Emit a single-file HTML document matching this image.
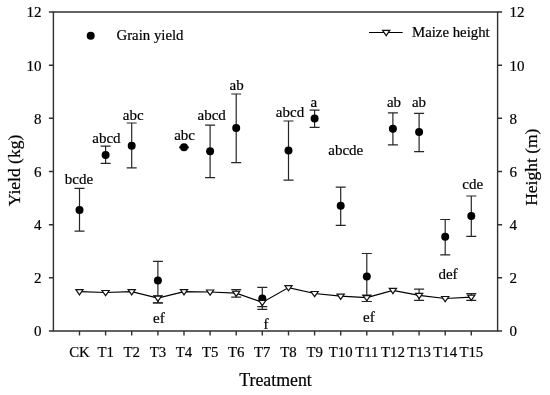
<!DOCTYPE html><html><head><meta charset="utf-8"><style>html,body{margin:0;padding:0;background:#fff;}svg{display:block;}text{font-family:"Liberation Serif","Times New Roman",serif;fill:#000;stroke:#000;stroke-width:0.2px;}</style></head><body>
<svg width="550" height="395" viewBox="0 0 550 395">
<rect width="550" height="395" fill="#fff"/>
<g stroke="#303030" stroke-width="1.4" fill="none">
<path d="M53.4 12V331H497.6V12Z"/>
<path d="M48.9 331.0H53.4M497.6 331.0H502.1"/>
<path d="M48.9 277.8H53.4M497.6 277.8H502.1"/>
<path d="M48.9 224.7H53.4M497.6 224.7H502.1"/>
<path d="M48.9 171.5H53.4M497.6 171.5H502.1"/>
<path d="M48.9 118.3H53.4M497.6 118.3H502.1"/>
<path d="M48.9 65.2H53.4M497.6 65.2H502.1"/>
<path d="M48.9 12.0H53.4M497.6 12.0H502.1"/>
<path d="M79.5 331V335.5"/>
<path d="M105.6 331V335.5"/>
<path d="M131.7 331V335.5"/>
<path d="M157.9 331V335.5"/>
<path d="M184.0 331V335.5"/>
<path d="M210.1 331V335.5"/>
<path d="M236.2 331V335.5"/>
<path d="M262.3 331V335.5"/>
<path d="M288.5 331V335.5"/>
<path d="M314.6 331V335.5"/>
<path d="M340.7 331V335.5"/>
<path d="M366.8 331V335.5"/>
<path d="M392.9 331V335.5"/>
<path d="M419.1 331V335.5"/>
<path d="M445.2 331V335.5"/>
<path d="M471.3 331V335.5"/>
</g>
<g font-size="15">
<text x="41.4" y="336.4" text-anchor="end">0</text>
<text x="509.6" y="336.4">0</text>
<text x="41.4" y="283.2" text-anchor="end">2</text>
<text x="509.6" y="283.2">2</text>
<text x="41.4" y="230.1" text-anchor="end">4</text>
<text x="509.6" y="230.1">4</text>
<text x="41.4" y="176.9" text-anchor="end">6</text>
<text x="509.6" y="176.9">6</text>
<text x="41.4" y="123.7" text-anchor="end">8</text>
<text x="509.6" y="123.7">8</text>
<text x="41.4" y="70.6" text-anchor="end">10</text>
<text x="509.6" y="70.6">10</text>
<text x="41.4" y="17.4" text-anchor="end">12</text>
<text x="509.6" y="17.4">12</text>
</g>
<g font-size="14.8" text-anchor="middle">
<text x="79.5" y="356.6">CK</text>
<text x="105.6" y="356.6">T1</text>
<text x="131.7" y="356.6">T2</text>
<text x="157.9" y="356.6">T3</text>
<text x="184.0" y="356.6">T4</text>
<text x="210.1" y="356.6">T5</text>
<text x="236.2" y="356.6">T6</text>
<text x="262.3" y="356.6">T7</text>
<text x="288.5" y="356.6">T8</text>
<text x="314.6" y="356.6">T9</text>
<text x="340.7" y="356.6">T10</text>
<text x="366.8" y="356.6">T11</text>
<text x="392.9" y="356.6">T12</text>
<text x="419.1" y="356.6">T13</text>
<text x="445.2" y="356.6">T14</text>
<text x="471.3" y="356.6">T15</text>
</g>
<text x="275.5" y="386.1" font-size="17.8" text-anchor="middle">Treatment</text>
<text transform="translate(19.5 170.5) rotate(-90)" font-size="17.5" text-anchor="middle">Yield (kg)</text>
<text transform="translate(537.2 167.2) rotate(-90)" font-size="17.5" text-anchor="middle">Height (m)</text>
<polyline points="79.5,291.7 105.6,292.5 131.7,291.7 157.9,298.2 184.0,291.7 210.1,292.0 236.2,293.2 262.3,302.4 288.5,287.6 314.6,293.5 340.7,296.2 366.8,297.6 392.9,290.4 419.1,295.4 445.2,298.5 471.3,297.2" fill="none" stroke="#000" stroke-width="1.2"/>
<g stroke="#262626" stroke-width="1.2" fill="none">
<path d="M79.5 188.3V231.2M74.5 188.3h10M74.5 231.2h10"/>
<path d="M105.6 146.1V163.3M100.6 146.1h10M100.6 163.3h10"/>
<path d="M131.7 123.0V167.9M126.7 123.0h10M126.7 167.9h10"/>
<path d="M157.9 261.4V302.9M152.9 261.4h10M152.9 302.9h10"/>
<path d="M184.0 147.1V147.7M179.0 147.1h10M179.0 147.7h10"/>
<path d="M210.1 125.2V177.6M205.1 125.2h10M205.1 177.6h10"/>
<path d="M236.2 94.0V162.6M231.2 94.0h10M231.2 162.6h10"/>
<path d="M262.3 287.4V306.6M257.3 287.4h10M257.3 306.6h10"/>
<path d="M288.5 121.0V180.1M283.5 121.0h10M283.5 180.1h10"/>
<path d="M314.6 110.1V127.4M309.6 110.1h10M309.6 127.4h10"/>
<path d="M340.7 187.1V225.3M335.7 187.1h10M335.7 225.3h10"/>
<path d="M366.8 253.5V301.5M361.8 253.5h10M361.8 301.5h10"/>
<path d="M392.9 112.9V144.9M387.9 112.9h10M387.9 144.9h10"/>
<path d="M419.1 113.4V151.6M414.1 113.4h10M414.1 151.6h10"/>
<path d="M445.2 219.5V254.9M440.2 219.5h10M440.2 254.9h10"/>
<path d="M471.3 196.0V236.4M466.3 196.0h10M466.3 236.4h10"/>
<path d="M152.9 295.9h10M157.9 295.9V298.2"/>
<path d="M152.9 302.9h10M157.9 302.9V298.2"/>
<path d="M231.2 289.5h10M236.2 289.5V293.2"/>
<path d="M231.2 297.2h10M236.2 297.2V293.2"/>
<path d="M257.3 309.4h10M262.3 309.4V302.4"/>
<path d="M361.8 295.0h10M366.8 295.0V297.6"/>
<path d="M361.8 301.5h10M366.8 301.5V297.6"/>
<path d="M414.1 289.1h10M419.1 289.1V295.4"/>
<path d="M414.1 300.4h10M419.1 300.4V295.4"/>
<path d="M466.3 293.6h10M471.3 293.6V297.2"/>
<path d="M466.3 300.4h10M471.3 300.4V297.2"/>
</g>
<g fill="#000">
<circle cx="79.5" cy="210.0" r="4"/>
<circle cx="105.6" cy="155.0" r="4"/>
<circle cx="131.7" cy="145.7" r="4"/>
<circle cx="157.9" cy="280.4" r="4"/>
<circle cx="184.0" cy="147.2" r="4"/>
<circle cx="210.1" cy="151.3" r="4"/>
<circle cx="236.2" cy="128.0" r="4"/>
<circle cx="262.3" cy="298.4" r="4"/>
<circle cx="288.5" cy="150.5" r="4"/>
<circle cx="314.6" cy="118.4" r="4"/>
<circle cx="340.7" cy="205.8" r="4"/>
<circle cx="366.8" cy="276.6" r="4"/>
<circle cx="392.9" cy="128.7" r="4"/>
<circle cx="419.1" cy="132.1" r="4"/>
<circle cx="445.2" cy="236.8" r="4"/>
<circle cx="471.3" cy="215.9" r="4"/>
</g>
<g fill="#fff" stroke="#111" stroke-width="1.2">
<path d="M75.9 289.7H83.1L79.5 294.9Z"/>
<path d="M102.0 290.5H109.2L105.6 295.7Z"/>
<path d="M128.1 289.7H135.3L131.7 294.9Z"/>
<path d="M154.3 296.2H161.5L157.9 301.4Z"/>
<path d="M180.4 289.7H187.6L184.0 294.9Z"/>
<path d="M206.5 290.0H213.7L210.1 295.2Z"/>
<path d="M232.6 291.2H239.8L236.2 296.4Z"/>
<path d="M258.7 300.4H265.9L262.3 305.6Z"/>
<path d="M284.9 285.6H292.1L288.5 290.8Z"/>
<path d="M311.0 291.5H318.2L314.6 296.7Z"/>
<path d="M337.1 294.2H344.3L340.7 299.4Z"/>
<path d="M363.2 295.6H370.4L366.8 300.8Z"/>
<path d="M389.3 288.4H396.5L392.9 293.6Z"/>
<path d="M415.5 293.4H422.7L419.1 298.6Z"/>
<path d="M441.6 296.5H448.8L445.2 301.7Z"/>
<path d="M467.7 295.2H474.9L471.3 300.4Z"/>
</g>
<g font-size="15" text-anchor="middle">
<text x="79.0" y="183.6">bcde</text>
<text x="106.4" y="143.4">abcd</text>
<text x="133.2" y="119.6">abc</text>
<text x="158.8" y="323.4">ef</text>
<text x="184.6" y="140.0">abc</text>
<text x="211.7" y="120.0">abcd</text>
<text x="236.6" y="89.5">ab</text>
<text x="266.0" y="329.0">f</text>
<text x="290.0" y="117.4">abcd</text>
<text x="313.8" y="106.8">a</text>
<text x="345.8" y="154.6">abcde</text>
<text x="368.8" y="322.2">ef</text>
<text x="394.0" y="107.4">ab</text>
<text x="419.0" y="107.4">ab</text>
<text x="448.0" y="279.0">def</text>
<text x="472.7" y="188.6">cde</text>
</g>
<circle cx="90.7" cy="35.8" r="4" fill="#000"/>
<text x="116.5" y="40.4" font-size="14.8">Grain yield</text>
<path d="M369 32.5H402.7" stroke="#000" stroke-width="1"/>
<path d="M382.6 30.4H389.8L386.2 35.6Z" fill="#fff" stroke="#111" stroke-width="1.2"/>
<text x="412" y="37.3" font-size="14.8">Maize height</text>
</svg></body></html>
